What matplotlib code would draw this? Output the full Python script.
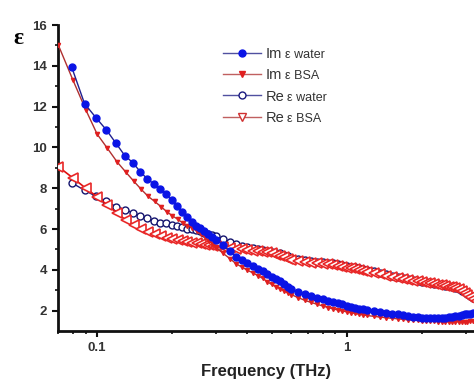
import matplotlib
matplotlib.use("Agg")
import matplotlib.pyplot as plt
from matplotlib.lines import Line2D
from matplotlib.ticker import FixedLocator, FixedFormatter, NullFormatter

# frequency grids (THz)
f_water = [0.079, 0.089, 0.099, 0.109, 0.119, 0.129, 0.139, 0.149, 0.159, 0.169,
           0.179, 0.189, 0.199, 0.209, 0.219, 0.229, 0.239, 0.249, 0.259, 0.269,
           0.279, 0.289, 0.299,
           0.32, 0.34, 0.36, 0.38, 0.40, 0.42, 0.44, 0.46, 0.48, 0.50,
           0.52, 0.54, 0.56, 0.58, 0.60, 0.64, 0.68, 0.72, 0.76, 0.80,
           0.84, 0.88, 0.92, 0.96, 1.00, 1.04, 1.08, 1.12, 1.16, 1.20,
           1.28, 1.36, 1.44, 1.52, 1.60, 1.68, 1.76, 1.84, 1.92, 2.00,
           2.08, 2.16, 2.24, 2.32, 2.40, 2.48, 2.56, 2.64, 2.72, 2.80,
           2.88, 2.96, 3.04, 3.12, 3.20, 3.28]
f_bsa = [0.070, 0.080, 0.090, 0.100, 0.110, 0.120, 0.130, 0.140, 0.150, 0.160,
         0.170, 0.180, 0.190, 0.200, 0.210, 0.220, 0.230, 0.240, 0.250, 0.260,
         0.270, 0.280, 0.290, 0.300,
         0.32, 0.34, 0.36, 0.38, 0.40, 0.42, 0.44, 0.46, 0.48, 0.50,
         0.52, 0.54, 0.56, 0.58, 0.60, 0.64, 0.68, 0.72, 0.76, 0.80,
         0.84, 0.88, 0.92, 0.96, 1.00, 1.04, 1.08, 1.12, 1.16, 1.20,
         1.28, 1.36, 1.44, 1.52, 1.60, 1.68, 1.76, 1.84, 1.92, 2.00,
         2.08, 2.16, 2.24, 2.32, 2.40, 2.48, 2.56, 2.64, 2.72, 2.80,
         2.88, 2.96, 3.04, 3.12, 3.20, 3.28]

im_water = [13.95, 12.15, 11.45, 10.85, 10.2, 9.6, 9.25, 8.8, 8.45, 8.2,
            7.95, 7.7, 7.4, 7.12, 6.85, 6.58, 6.35, 6.17, 6.03, 5.9,
            5.77, 5.6, 5.48,
            5.2, 4.92, 4.65, 4.46, 4.32, 4.18, 4.06, 3.94, 3.8, 3.65,
            3.53, 3.43, 3.28, 3.16, 3.05, 2.93, 2.83, 2.72, 2.64, 2.56,
            2.48, 2.41, 2.36, 2.3, 2.25, 2.2, 2.15, 2.1, 2.06, 2.03,
            1.97, 1.93, 1.88, 1.84, 1.81, 1.77, 1.74, 1.71, 1.68, 1.66,
            1.64, 1.62, 1.62, 1.62, 1.63, 1.65, 1.67, 1.7, 1.73, 1.75,
            1.78, 1.81, 1.83, 1.85, 1.87, 1.89]
re_water = [8.27, 7.9, 7.6, 7.35, 7.1, 6.95, 6.8, 6.63, 6.52, 6.4,
            6.3, 6.27, 6.22, 6.15, 6.08, 6.02, 5.98, 5.93, 5.88, 5.82,
            5.76, 5.7, 5.65,
            5.5, 5.36, 5.25, 5.17, 5.11, 5.05, 5.01, 4.97, 4.93, 4.88,
            4.84, 4.8, 4.74, 4.66, 4.6, 4.52, 4.46, 4.42, 4.39, 4.36,
            4.33, 4.31, 4.28, 4.25, 4.2, 4.16, 4.12, 4.07, 4.02, 3.98,
            3.92, 3.85, 3.78, 3.72, 3.66, 3.6, 3.55, 3.5, 3.46, 3.42,
            3.38, 3.35, 3.32, 3.29, 3.26, 3.23, 3.2, 3.15, 3.1, 3.04,
            2.98, 2.9, 2.82, 2.72, 2.64, 2.56]
im_bsa = [15.0, 13.3, 11.85, 10.65, 9.95, 9.3, 8.8, 8.35, 7.95, 7.6,
          7.35, 7.1, 6.85, 6.65, 6.48, 6.3, 6.17, 6.05, 5.9, 5.75,
          5.6, 5.42, 5.25, 5.1,
          4.8, 4.55, 4.3, 4.13, 3.98, 3.85, 3.72, 3.58, 3.42, 3.28,
          3.18, 3.08, 2.97, 2.87, 2.78, 2.63, 2.5, 2.4, 2.31, 2.23,
          2.15, 2.09, 2.03, 1.98, 1.94, 1.9, 1.86, 1.82, 1.79, 1.76,
          1.72, 1.68, 1.65, 1.62, 1.6, 1.57, 1.55, 1.53, 1.52, 1.5,
          1.49, 1.48, 1.47, 1.46, 1.46, 1.45, 1.45, 1.45, 1.45, 1.45,
          1.46, 1.46, 1.46, 1.47, 1.47, 1.48]
re_bsa = [9.05, 8.5, 8.0, 7.58, 7.17, 6.78, 6.45, 6.2, 6.0, 5.85,
          5.74, 5.64, 5.55, 5.49, 5.44, 5.4, 5.36, 5.33, 5.3, 5.27,
          5.24, 5.21, 5.18, 5.15,
          5.1, 5.07, 5.03, 5.0, 4.97, 4.94, 4.91, 4.89, 4.85, 4.81,
          4.75, 4.68, 4.61, 4.54, 4.48, 4.43, 4.39, 4.35, 4.32, 4.29,
          4.26, 4.23, 4.2, 4.15, 4.11, 4.07, 4.02, 3.97, 3.93, 3.9,
          3.83, 3.77, 3.7, 3.65, 3.6, 3.55, 3.5, 3.46, 3.43, 3.4,
          3.37, 3.33, 3.3, 3.27, 3.24, 3.21, 3.18, 3.15, 3.1, 3.04,
          2.95, 2.86, 2.76, 2.65, 2.55, 2.48]

x_ticks = [0.1, 1]
x_ticklabels = ["0.1", "1"]
y_ticks = [2, 4, 6, 8, 10, 12, 14, 16]

plt.rcParams['font.family'] = ['Liberation Sans', 'DejaVu Sans']

fig = plt.figure(figsize=(4.74, 3.87), dpi=100)
ax = fig.add_axes([58 / 474, 1 - 331 / 387, 1 - 58 / 474, (331 - 25) / 387])

# Re first so Im curves sit on top where they cross
ax.plot(f_water, re_water, '-', color='#1a1a80', lw=1, marker='o', ms=5,
        mfc='white', mec='#14146e', mew=1, zorder=2)
ax.plot(f_bsa, re_bsa, '-', color='#e01010', lw=1.2, marker='<', ms=6.5,
        mfc='white', mec='#e82828', mew=1.2, zorder=3)
ax.plot(f_bsa, im_bsa, '-', color='#b03030', lw=1, marker='v', ms=3,
        mfc='#e02020', mec='#e02020', zorder=4)
ax.plot(f_water, im_water, '-', color='#202090', lw=1, marker='o', ms=5,
        mfc='#0a14e6', mec='#0a14e6', zorder=5)

ax.set_xscale('log')
ax.set_xlim(0.0697, 3.23)
ax.set_ylim(1, 16)

ax.xaxis.set_major_locator(FixedLocator(x_ticks))
ax.xaxis.set_major_formatter(FixedFormatter(x_ticklabels))
ax.xaxis.set_minor_locator(FixedLocator([0.07, 0.08, 0.09, 0.2, 0.3, 0.4, 0.5,
                                         0.6, 0.7, 0.8, 0.9, 2, 3]))
ax.xaxis.set_minor_formatter(NullFormatter())
ax.set_yticks(y_ticks)
ax.set_yticks([3, 5, 7, 9, 11, 13, 15], minor=True)

for s in ['top', 'right']:
    ax.spines[s].set_visible(False)
for s in ['left', 'bottom']:
    ax.spines[s].set_linewidth(2)
    ax.spines[s].set_color('#111111')

ax.tick_params(which='major', direction='out', length=4, width=1.5,
               color='#111111', labelsize=9.5, labelcolor='#333333', pad=4)
ax.tick_params(which='minor', direction='out', length=2.5, width=1.2,
               color='#111111')
for lab in ax.get_xticklabels() + ax.get_yticklabels():
    lab.set_fontweight('bold')

ax.set_xlabel("Frequency (THz)", fontsize=12, fontweight='bold',
              color='#222222', labelpad=7)
fig.text(18.5 / 474, 1 - 38 / 387, "ε", fontsize=17, fontweight='bold',
         family=['Liberation Serif', 'DejaVu Serif'], ha='center', va='center')

# legend: big "Im"/"Re" with smaller "ε ..." added after
handles = [
    Line2D([], [], color='#5050a0', lw=1, marker='o', ms=5, mfc='#0a14e6', mec='#0a14e6'),
    Line2D([], [], color='#c06060', lw=1, marker='v', ms=5, mfc='#e02020', mec='#e02020'),
    Line2D([], [], color='#5050a0', lw=1, marker='o', ms=5, mfc='white', mec='#1a1a80'),
    Line2D([], [], color='#c06060', lw=1, marker='v', ms=6, mfc='white', mec='#d03030'),
]
leg_fs = 10.5
leg = ax.legend(handles, ["Im", "Im", "Re", "Re"], loc='upper left',
                bbox_to_anchor=((223 - 58) / 416, (331 - 47) / 306),
                frameon=False, fontsize=leg_fs, handlelength=2.6,
                handletextpad=0.3, labelspacing=0.5, borderpad=0,
                borderaxespad=0)
for t in leg.get_texts():
    t.set_color('#333333')

fig.canvas.draw()
suffix = ["ε water", "ε BSA", "ε water", "ε BSA"]
for t, s in zip(leg.get_texts(), suffix):
    bb = t.get_window_extent()
    base = bb.y0 + 0.21 * leg_fs * 100 / 72
    fig.text((bb.x1 + 3) / 474, base / 387, s, fontsize=9, color='#333333',
             va='baseline', ha='left')

fig.savefig("out.png", dpi=100)
